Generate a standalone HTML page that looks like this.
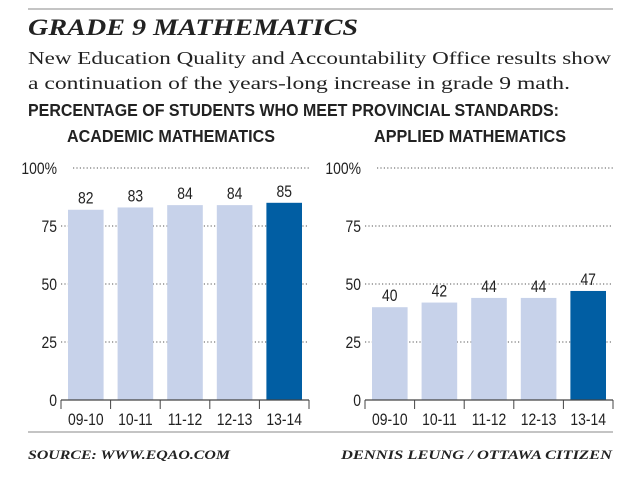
<!DOCTYPE html>
<html><head><meta charset="utf-8"><style>
body{margin:0;background:#fff;}
svg text{font-family:"Liberation Sans Narrow","Liberation Sans",sans-serif;fill:#222;}
.serif{font-family:"Liberation Serif",serif !important;}
</style></head><body>
<svg id="c" width="640" height="472" viewBox="0 0 640 472" xmlns="http://www.w3.org/2000/svg">
<line x1="28" y1="9" x2="613" y2="9" stroke="#888" stroke-width="1"/>
<text x="28" y="35" class="serif" font-size="23" font-weight="bold" font-style="italic" textLength="330" lengthAdjust="spacingAndGlyphs">GRADE 9 MATHEMATICS</text>
<text x="28" y="64" class="serif" font-size="18" textLength="583" lengthAdjust="spacingAndGlyphs">New Education Quality and Accountability Office results show</text>
<text x="28" y="89" class="serif" font-size="18" textLength="542" lengthAdjust="spacingAndGlyphs">a continuation of the years-long increase in grade 9 math.</text>
<text x="28" y="116" font-size="17.5" font-weight="bold" textLength="531" lengthAdjust="spacingAndGlyphs">PERCENTAGE OF STUDENTS WHO MEET PROVINCIAL STANDARDS:</text>
<text x="67" y="142" font-size="17.5" font-weight="bold" textLength="208" lengthAdjust="spacingAndGlyphs">ACADEMIC MATHEMATICS</text>
<text x="374" y="142" font-size="17.5" font-weight="bold" textLength="192" lengthAdjust="spacingAndGlyphs">APPLIED MATHEMATICS</text>
<g id="left"></g><g id="right"></g>
<line x1="28" y1="432" x2="613" y2="432" stroke="#888" stroke-width="1"/>
<text x="28" y="459" class="serif" font-size="12.5" font-weight="bold" font-style="italic" textLength="202" lengthAdjust="spacingAndGlyphs">SOURCE: WWW.EQAO.COM</text>
<text x="341" y="459" class="serif" font-size="12.5" font-weight="bold" font-style="italic" textLength="271" lengthAdjust="spacingAndGlyphs">DENNIS LEUNG / OTTAWA CITIZEN</text>
</svg>
<script>
const categories=["09-10","10-11","11-12","12-13","13-14"];
const academicValues=[82,83,84,84,85];
const appliedValues=[40,42,44,44,47];
const yTicks=[0,25,50,75,100];
const yTickLabels=["0","25","50","75","100%"];
const NS="http://www.w3.org/2000/svg";
function mk(t,a,p){const e=document.createElementNS(NS,t);for(const k in a)e.setAttribute(k,a[k]);p.appendChild(e);return e;}
function narrow(e,x){e.setAttribute('transform','translate('+x+',0) scale(0.82,1) translate('+(-x)+',0)');}
function draw(gid,x0,vals,name){
  const g=document.getElementById(gid);
  const W=248,y0=400,y1=168;
  const y=v=>y0-(v/100)*(y0-y1);
  const band=W/categories.length;
  yTicks.forEach((t,i)=>{
    const l=mk('line',{x1:(t===100?x0+12:x0),y1:y(t),x2:x0+W,y2:y(t),stroke:'#555','stroke-width':1,'stroke-dasharray':'1.2 2.2'},g);
    
    
    if(t===0)l.setAttribute('stroke-dasharray','none');
    const tx=mk('text',{x:x0-4,y:y(t)+6,'font-size':17,'text-anchor':'end'},g);
    tx.textContent=yTickLabels[i];
    narrow(tx,x0-4);
    
    
  });
  for(let i=0;i<=categories.length;i++){
    const tk=mk('line',{x1:x0+i*band,y1:y0,x2:x0+i*band,y2:y0+9,stroke:'#444','stroke-width':1},g);
    
    
  }
  categories.forEach((c,i)=>{
    const bx=x0+i*band+7,bw=band-14;
    const r=mk('rect',{x:bx,y:y(vals[i]),width:bw,height:y0-y(vals[i]),fill:i===categories.length-1?'#015ea3':'#c7d2ea'},g);
    
    
    const v=mk('text',{x:bx+bw/2,y:y(vals[i])-6,'font-size':17,'text-anchor':'middle'},g);
    v.textContent=vals[i];
    narrow(v,bx+bw/2);
    
    
    const cl=mk('text',{x:x0+i*band+band/2,y:y0+25,'font-size':17,'text-anchor':'middle'},g);
    cl.textContent=c;
    narrow(cl,x0+i*band+band/2);
    
    
  });
  const ax=mk('line',{x1:x0,y1:y0,x2:x0+W,y2:y0,stroke:'#444','stroke-width':1.2},g);
  
  
}
draw('left',61,academicValues,'academic');
draw('right',365,appliedValues,'applied');
</script>
</body></html>
